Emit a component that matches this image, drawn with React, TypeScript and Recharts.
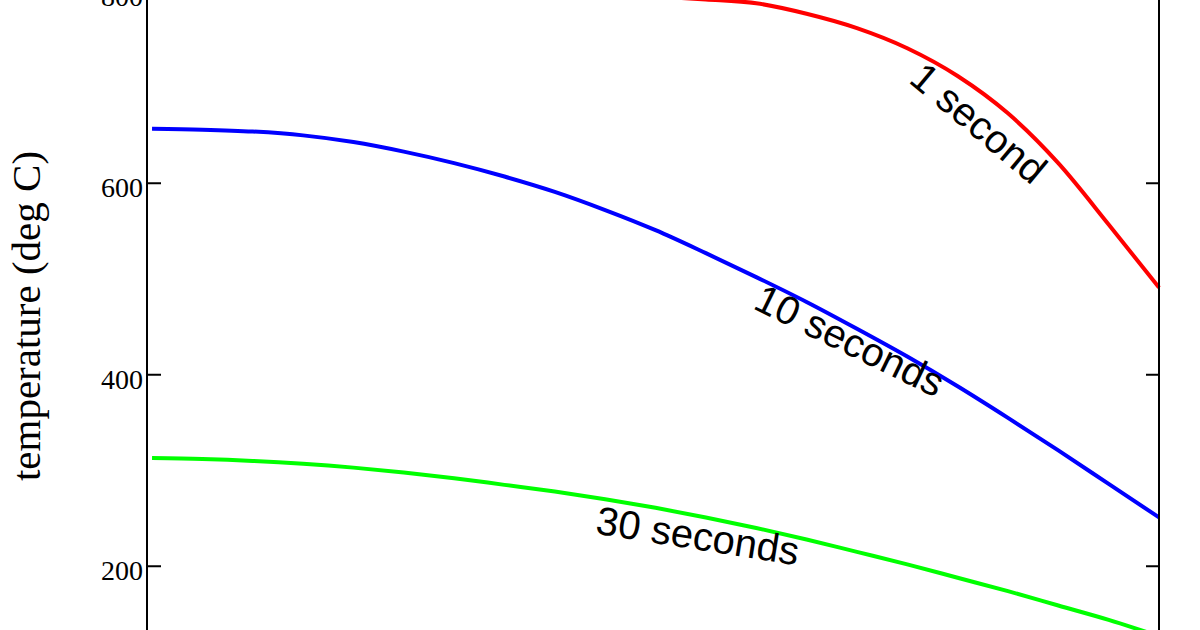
import React from "react";
import { LineChart, Line, XAxis, YAxis, ReferenceDot } from "recharts";

// position across the slab (arbitrary units, 0..100)
const positions = [0, 5, 10, 15, 20, 25, 30, 35, 40, 45, 50, 55, 60, 65, 70, 75, 80, 85, 90, 95, 100];

// temperature (deg C) after 1 second (upper part is outside the picture)
const temp1s = [830, 829, 827, 824, 820, 816, 811, 806, 802, 798, 795, 792, 788, 777, 762, 741, 712, 673, 621, 557, 491];
// temperature after 10 seconds
const temp10s = [657, 656, 654, 650, 643, 633, 621, 607, 591, 572, 551, 527, 502, 476, 448, 419, 388, 355, 321, 286, 251];
// temperature after 30 seconds
const temp30s = [313, 312, 310, 307, 303, 298, 292, 285, 278, 270, 261, 251, 240, 228, 215, 202, 188, 174, 159, 144, 127];

const yTicks = [200, 400, 600, 800];
const yLabel = "temperature (deg C)";

const curveLabels = [
  { text: "1 second", x: 82.1, y: 663, angle: 40 },
  { text: "10 seconds", x: 69.3, y: 436, angle: 26 },
  { text: "30 seconds", x: 54.2, y: 232, angle: 9 },
];

const data = positions.map((p, i) => ({
  x: p,
  t1: temp1s[i],
  t10: temp10s[i],
  t30: temp30s[i],
}));

const LeftTick = (props: any) => {
  const { x, y, payload } = props;
  return (
    <g>
      <line x1={x} y1={y} x2={x + 14} y2={y} stroke="#000" strokeWidth={2} />
      <text
        x={x - 4}
        y={y + 14}
        textAnchor="end"
        fontFamily="'Liberation Serif', 'Times New Roman', serif"
        fontSize={28}
        fill="#000"
      >
        {payload.value}
      </text>
    </g>
  );
};

const RightTick = (props: any) => {
  const { x, y } = props;
  return <line x1={x - 13} y1={y} x2={x} y2={y} stroke="#000" strokeWidth={2} />;
};

const YLabelContent = (props: any) => {
  const vb = props.viewBox || {};
  const cx = vb.x + 26;
  const cy = vb.y + 420;
  return (
    <text
      x={cx}
      y={cy}
      transform={`rotate(-90, ${cx}, ${cy})`}
      textAnchor="middle"
      dominantBaseline="central"
      fontFamily="'Liberation Serif', 'Times New Roman', serif"
      fontSize={41}
      fill="#000"
    >
      {yLabel}
    </text>
  );
};

const makeLabelShape = (text: string, angle: number) => (props: any) => {
  const { cx, cy } = props;
  return (
    <text
      x={cx}
      y={cy}
      transform={`rotate(${angle}, ${cx}, ${cy})`}
      textAnchor="middle"
      dominantBaseline="central"
      fontFamily="'Liberation Sans', Arial, sans-serif"
      fontSize={40}
      fill="#000"
    >
      {text}
    </text>
  );
};

export default function App() {
  return (
    <div
      style={{
        position: "fixed",
        left: 0,
        top: 0,
        width: 1200,
        height: 630,
        overflow: "hidden",
        background: "#fff",
      }}
    >
      <div style={{ position: "absolute", left: 0, top: -104 }}>
        <LineChart width={1200} height={766} data={data} margin={{ top: 0, right: 0, bottom: 0, left: 0 }}>
          <XAxis dataKey="x" type="number" domain={[-0.5, 100]} hide />
          <YAxis
            yAxisId="left"
            type="number"
            domain={[100, 900]}
            ticks={yTicks}
            width={147}
            tickSize={0}
            tickMargin={0}
            tickLine={false}
            tick={<LeftTick />}
            axisLine={{ stroke: "#000", strokeWidth: 2 }}
            allowDataOverflow
            label={{ content: <YLabelContent /> }}
          />
          <YAxis
            yAxisId="right"
            orientation="right"
            type="number"
            domain={[100, 900]}
            ticks={yTicks}
            width={41}
            tickSize={0}
            tickMargin={0}
            tickLine={false}
            tick={<RightTick />}
            axisLine={{ stroke: "#000", strokeWidth: 2 }}
            allowDataOverflow
          />
          <Line yAxisId="left" type="monotone" dataKey="t1" stroke="#ff0000" strokeWidth={4} dot={false} isAnimationActive={false} />
          <Line yAxisId="left" type="monotone" dataKey="t10" stroke="#0000ff" strokeWidth={4} dot={false} isAnimationActive={false} />
          <Line yAxisId="left" type="monotone" dataKey="t30" stroke="#00ff00" strokeWidth={4} dot={false} isAnimationActive={false} />
          {curveLabels.map((l) => (
            <ReferenceDot
              key={l.text}
              yAxisId="left"
              x={l.x}
              y={l.y}
              r={0}
              ifOverflow="visible"
              shape={makeLabelShape(l.text, l.angle)}
            />
          ))}
        </LineChart>
      </div>
    </div>
  );
}
